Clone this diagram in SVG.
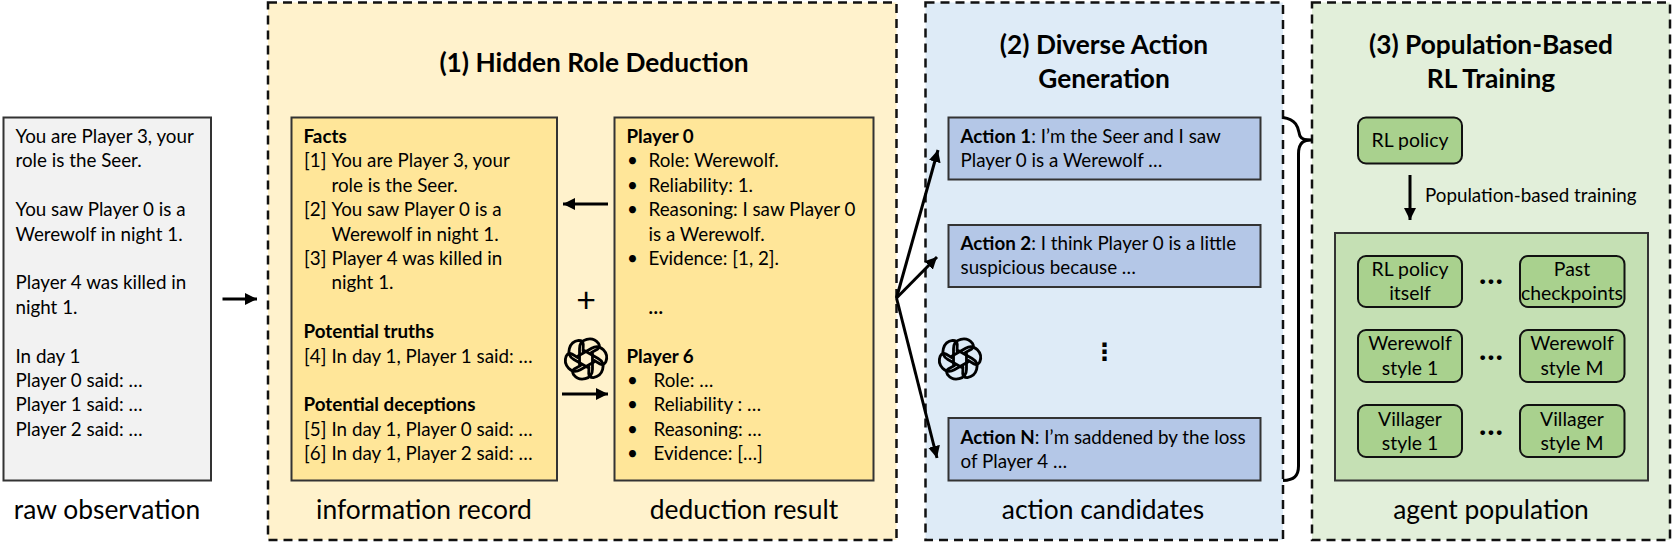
<svg xmlns="http://www.w3.org/2000/svg" width="1672" height="543" viewBox="0 0 1672 543">
<style>
text{font-family:"Lato","Carlito","Liberation Sans",sans-serif;fill:#000}
.t{font-size:18.8px}
.b{font-size:18.8px;font-weight:700}
.h{font-size:26.3px;font-weight:700;text-anchor:middle}
.c{font-size:26.4px;text-anchor:middle}
.m{font-size:19.4px;text-anchor:middle}
.d{font-size:31px;font-weight:700;text-anchor:middle}
.panel{stroke:#111;stroke-width:2.5;stroke-dasharray:9 6}
.box{stroke:#333;stroke-width:2}
.r{fill:#a9d18e;stroke:#111;stroke-width:2}
.a{fill:none;stroke:#000;stroke-width:3;marker-end:url(#ah)}
</style>
<defs>
<marker id="ah" markerUnits="userSpaceOnUse" markerWidth="14" markerHeight="14" refX="12" refY="6" orient="auto"><path d="M0 0L12 6L0 12Z" fill="#000"/></marker>
<g id="logo" fill="none" stroke="#000" stroke-width="2.6" stroke-linejoin="round" stroke-linecap="round">
<g id="pt"><path d="M-6 5V-9.5C-6 -19 6 -21.5 11.5 -14.5C13 -12 12 -10 10.5 -9L5 -6"/></g>
<use href="#pt" transform="rotate(60)"/><use href="#pt" transform="rotate(120)"/><use href="#pt" transform="rotate(180)"/><use href="#pt" transform="rotate(240)"/><use href="#pt" transform="rotate(300)"/>
</g>
</defs>
<g id="panel1"><rect class="panel" x="268" y="2.5" width="628.5" height="537.5" fill="#fff2cc"/><text class="h" x="594" y="72">(1) Hidden Role Deduction</text></g>
<g id="panel2"><rect class="panel" x="925.5" y="2.5" width="357.5" height="537.5" fill="#deebf7"/><text class="h" x="1104" y="54">(2) Diverse Action</text><text class="h" x="1104" y="88">Generation</text></g>
<g id="panel3"><rect class="panel" x="1312" y="2.5" width="358" height="537.5" fill="#e2efda"/><text class="h" x="1491" y="54">(3) Population-Based</text><text class="h" x="1491" y="88">RL Training</text></g>
<g id="raw-observation"><rect class="box" x="3.5" y="117.5" width="207.5" height="363" fill="#f2f2f2"/>
<text class="t" x="15.5" y="143">You are Player 3, your</text><text class="t" x="15.5" y="167.4">role is the Seer.</text>
<text class="t" x="15.5" y="216.2">You saw Player 0 is a</text><text class="t" x="15.5" y="240.6">Werewolf in night 1.</text>
<text class="t" x="15.5" y="289.4">Player 4 was killed in</text><text class="t" x="15.5" y="313.8">night 1.</text>
<text class="t" x="15.5" y="362.6">In day 1</text><text class="t" x="15.5" y="387">Player 0 said: …</text><text class="t" x="15.5" y="411.4">Player 1 said: …</text><text class="t" x="15.5" y="435.8">Player 2 said: …</text>
<text class="c" x="107" y="519">raw observation</text></g>
<g id="information-record"><rect class="box" x="291.5" y="117.5" width="265.5" height="363" fill="#ffe699"/>
<text class="b" x="303.5" y="143">Facts</text>
<text class="t" x="304" y="167.4">[1]</text><text class="t" x="331.5" y="167.4">You are Player 3, your</text><text class="t" x="331.5" y="191.8">role is the Seer.</text>
<text class="t" x="304" y="216.2">[2]</text><text class="t" x="331.5" y="216.2">You saw Player 0 is a</text><text class="t" x="331.5" y="240.6">Werewolf in night 1.</text>
<text class="t" x="304" y="265">[3]</text><text class="t" x="331.5" y="265">Player 4 was killed in</text><text class="t" x="331.5" y="289.4">night 1.</text>
<text class="b" x="303.5" y="338">Potential truths</text>
<text class="t" x="304" y="362.6">[4]</text><text class="t" x="331.5" y="362.6">In day 1, Player 1 said: …</text>
<text class="b" x="303.5" y="411.4">Potential deceptions</text>
<text class="t" x="304" y="435.8">[5]</text><text class="t" x="331.5" y="435.8">In day 1, Player 0 said: …</text>
<text class="t" x="304" y="460.2">[6]</text><text class="t" x="331.5" y="460.2">In day 1, Player 2 said: …</text>
<text class="c" x="424" y="519">information record</text></g>
<g id="deduction-result"><rect class="box" x="614.5" y="117.5" width="259" height="363" fill="#ffe699"/>
<text class="b" x="626.5" y="143">Player 0</text>
<text class="t" x="627" y="167.4">•</text><text class="t" x="648.5" y="167.4">Role: Werewolf.</text>
<text class="t" x="627" y="191.8">•</text><text class="t" x="648.5" y="191.8">Reliability: 1.</text>
<text class="t" x="627" y="216.2">•</text><text class="t" x="648.5" y="216.2">Reasoning: I saw Player 0</text><text class="t" x="648.5" y="240.6">is a Werewolf.</text>
<text class="t" x="627" y="265">•</text><text class="t" x="648.5" y="265">Evidence: [1, 2].</text>
<text class="b" x="648.5" y="313.8">…</text>
<text class="b" x="626.5" y="362.6">Player 6</text>
<text class="t" x="627" y="387">•</text><text class="t" x="653.5" y="387">Role: …</text>
<text class="t" x="627" y="411.4">•</text><text class="t" x="653.5" y="411.4">Reliability : …</text>
<text class="t" x="627" y="435.8">•</text><text class="t" x="653.5" y="435.8">Reasoning: …</text>
<text class="t" x="627" y="460.2">•</text><text class="t" x="653.5" y="460.2">Evidence: […]</text>
<text class="c" x="744" y="519">deduction result</text></g>
<g id="plus-llm"><text x="586" y="312" style="font-size:34px;text-anchor:middle">+</text><use href="#logo" transform="translate(586 359) scale(1.08)"/></g>
<g id="action-1"><rect class="box" x="948.5" y="117.5" width="312" height="62" fill="#b4c7e7"/><text class="t" x="960.5" y="143"><tspan font-weight="700">Action 1</tspan>: I’m the Seer and I saw</text><text class="t" x="960.5" y="167.4">Player 0 is a Werewolf …</text></g>
<g id="action-2"><rect class="box" x="948.5" y="225" width="312" height="62" fill="#b4c7e7"/><text class="t" x="960.5" y="250"><tspan font-weight="700">Action 2</tspan>: I think Player 0 is a little</text><text class="t" x="960.5" y="274.4">suspicious because …</text></g>
<g id="action-n"><rect class="box" x="948.5" y="418" width="312" height="62.5" fill="#b4c7e7"/><text class="t" x="960.5" y="443.5"><tspan font-weight="700">Action N</tspan>: I’m saddened by the loss</text><text class="t" x="960.5" y="467.8">of Player 4 …</text></g>
<g id="llm-2"><use href="#logo" transform="translate(960 359) scale(1.08)"/><text x="1104.5" y="360" style="font-family:'DejaVu Sans',sans-serif;font-size:24px;font-weight:700;text-anchor:middle">⋮</text><text class="c" x="1103" y="519">action candidates</text></g>
<g id="rl-policy"><rect class="r" x="1358" y="117.5" width="104" height="46" rx="8"/><text class="m" x="1410" y="147">RL policy</text></g>
<text class="t" x="1425" y="202">Population-based training</text>
<g id="agent-population"><rect class="box" x="1335" y="233" width="313" height="247.5" fill="#c5e0b4"/><text class="c" x="1491" y="519">agent population</text>
<g id="a1"><rect class="r" x="1358" y="256" width="104" height="51" rx="8"/><text class="m" x="1410" y="276">RL policy</text><text class="m" x="1410" y="300">itself</text></g>
<g id="a2"><rect class="r" x="1520" y="256" width="104.5" height="51" rx="8"/><text class="m" x="1572" y="276">Past</text><text class="m" x="1572" y="300">checkpoints</text></g>
<g id="a3"><rect class="r" x="1358" y="330" width="104" height="52" rx="8"/><text class="m" x="1410" y="350">Werewolf</text><text class="m" x="1410" y="375">style 1</text></g>
<g id="a4"><rect class="r" x="1520" y="330" width="104.5" height="52" rx="8"/><text class="m" x="1572" y="350">Werewolf</text><text class="m" x="1572" y="375">style M</text></g>
<g id="a5"><rect class="r" x="1358" y="405" width="104" height="52" rx="8"/><text class="m" x="1410" y="425.5">Villager</text><text class="m" x="1410" y="450">style 1</text></g>
<g id="a6"><rect class="r" x="1520" y="405" width="104.5" height="52" rx="8"/><text class="m" x="1572" y="425.5">Villager</text><text class="m" x="1572" y="450">style M</text></g>
<text class="d" x="1491" y="284">…</text><text class="d" x="1491" y="360">…</text><text class="d" x="1491" y="435">…</text></g>
<g id="connectors">
<path class="a" d="M222.5 299H257"/><path class="a" d="M608 204H563"/><path class="a" d="M562 394H608"/>
<path class="a" d="M896.5 298L938 150"/><path class="a" d="M896.5 298L937 257"/><path class="a" d="M896.5 298L937 458"/>
<path class="a" d="M1410 175V220"/>
<path d="M1283 117.5C1300 120 1298 132 1300 136C1302 140 1306 140 1312 140C1304 140 1298.5 142 1298.5 154V466C1298.5 476 1294 480 1283 480.5" fill="none" stroke="#000" stroke-width="3"/>
</g>
</svg>
